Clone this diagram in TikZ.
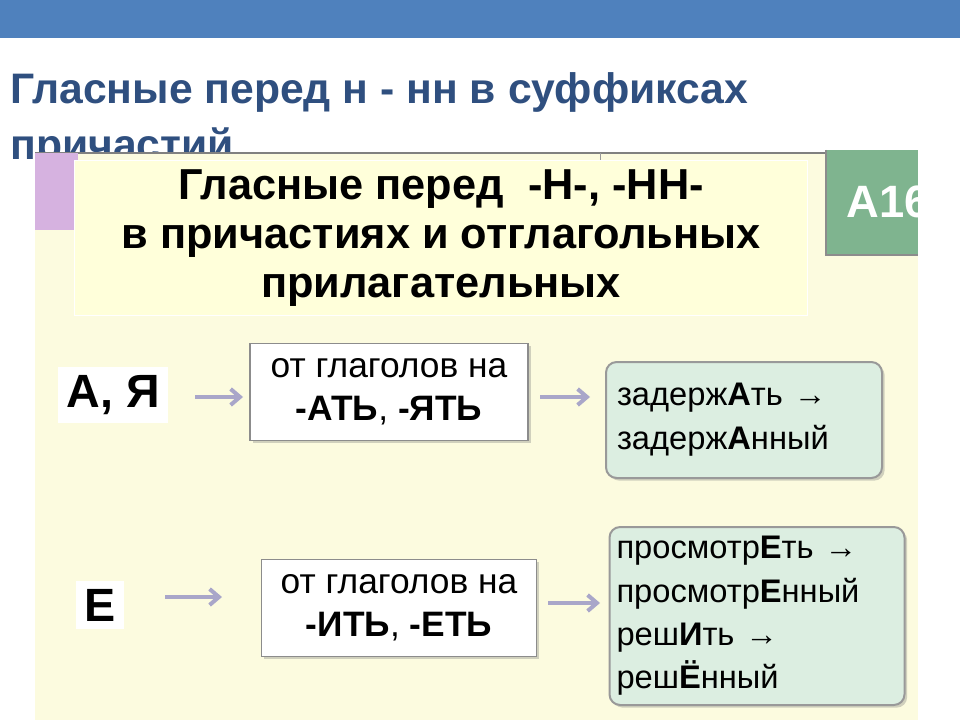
\documentclass[tikz,border=0pt]{standalone}
\usepackage{fontspec}
\setmainfont{Liberation Sans}
\usetikzlibrary{arrows.meta,shadows}
\definecolor{barblue}{HTML}{4F81BD}
\definecolor{titleblue}{HTML}{2F4F7F}
\definecolor{panel}{HTML}{FCFBDF}
\definecolor{hdr}{HTML}{FFFFDA}
\definecolor{tabpurple}{HTML}{D6B2E0}
\definecolor{tabgreen}{HTML}{7FB48F}
\definecolor{greenbox}{HTML}{DCEEE1}
\definecolor{arr}{HTML}{A9A6C9}
\tikzset{
  whitebox/.style={draw=black!45, line width=1.2pt, fill=white, drop shadow={shadow xshift=2pt,shadow yshift=-2pt,opacity=.35}, align=center, inner sep=0pt},
  greenrect/.style={draw=black!40, line width=1.5pt, fill=greenbox, rounded corners=8pt, drop shadow={shadow xshift=2pt,shadow yshift=-2pt,opacity=.35}, align=left, inner sep=0pt},
  flow/.style={arr, line width=3pt, -{Straight Barb[length=7pt,width=12pt]}},
  letter/.style={fill=white, font=\bfseries\fontsize{35}{35}\selectfont, inner sep=6pt}
}
\begin{document}
\begin{tikzpicture}[x=0.75pt,y=-0.75pt]
\useasboundingbox (0,0) rectangle (960,720);
\fill[white] (0,0) rectangle (960,720);
\fill[barblue] (0,0) rectangle (960,38);
\node[anchor=base west, text=titleblue, font=\bfseries\fontsize{32}{32}\selectfont, inner sep=0pt] (t1) at (10,104) {Гласные перед н - нн в суффиксах};
\node[anchor=base west, text=titleblue, font=\bfseries\fontsize{32}{32}\selectfont, inner sep=0pt] (t2) at (10,160) {причастий};
% panel
\fill[panel] (35,152) rectangle (918,720);
\draw[black!50, line width=1pt] (35,153) -- (825,153);
\draw[black!40] (600,153) -- (600,162);
\fill[tabpurple] (35,153) rectangle (78,230);
\fill[tabgreen] (826,150) rectangle (918,255);
\draw[black!45, line width=1pt] (826,150) -- (826,255) -- (918,255);
\node[anchor=west, text=white, font=\bfseries\fontsize{34}{34}\selectfont, inner sep=0pt] (a16) at (846,202) {А16};
\fill[white] (918,150) rectangle (960,720);
% header
\node[draw=white, fill=hdr, minimum width=733*0.75pt, minimum height=155*0.75pt, align=center, font=\bfseries\fontsize{32.5}{37}\selectfont] (hdr) at (441,238) {Гласные перед\ \ -Н-, -НН-\\в причастиях и отглагольных\\прилагательных};
% row 1
\node[letter] (ay) at (113,395) {А, Я};
\node[whitebox, minimum width=278*0.75pt, minimum height=97*0.75pt, font=\fontsize{26.5}{32}\selectfont] (b1) at (389,392) {от глаголов на\\\textbf{-АТЬ}, \textbf{-ЯТЬ}};
\node[greenrect, minimum width=276*0.75pt, minimum height=116*0.75pt, text width=254*0.75pt, font=\fontsize{24.5}{33}\selectfont] (g1) at (744,420) {задерж\textbf{А}ть →\\задерж\textbf{А}нный};
\draw[flow] (195,397) -- (243,397);
\draw[flow] (540,397) -- (590,397);
% row 2
\node[letter] (e) at (100,605) {Е};
\node[whitebox, minimum width=275*0.75pt, minimum height=97*0.75pt, font=\fontsize{26.5}{32}\selectfont] (b2) at (399,608) {от глаголов на\\\textbf{-ИТЬ}, \textbf{-ЕТЬ}};
\node[greenrect, minimum width=295*0.75pt, minimum height=178*0.75pt, text width=281*0.75pt, font=\fontsize{24.5}{32.5}\selectfont] (g2) at (757,616) {просмотр\textbf{Е}ть →\\просмотр\textbf{Е}нный\\реш\textbf{И}ть →\\реш\textbf{Ё}нный};
\draw[flow] (165,597) -- (222,597);
\draw[flow] (548,603) -- (600,603);
\end{tikzpicture}
\end{document}
